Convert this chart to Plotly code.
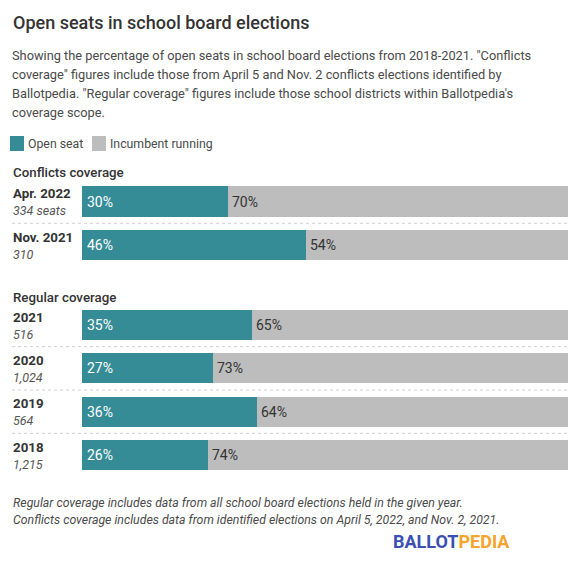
import plotly.graph_objects as go

W, H = 580, 566

# ---- data ----
conf_cats = ["Apr. 2022", "Nov. 2021"]
conf_sub = ["334 seats", "310"]
conf_open = [30, 46]
conf_inc = [70, 54]

reg_cats = ["2021", "2020", "2019", "2018"]
reg_sub = ["516", "1,024", "564", "1,215"]
reg_open = [35, 27, 36, 26]
reg_inc = [65, 73, 64, 74]

TEAL = "#368C96"
GREY = "#BDBDBD"
DARK = "#333333"
MID = "#4a4a4a"
FONT = "Roboto"


def px(x):
    return x / W


def py(y):
    return 1 - y / H


fig = go.Figure()

for cats, opn, inc, yax in [(conf_cats, conf_open, conf_inc, "y"),
                            (reg_cats, reg_open, reg_inc, "y2")]:
    fig.add_trace(go.Bar(y=cats, x=opn, orientation="h", marker=dict(color=TEAL, line=dict(width=0)),
                         name="Open seat", xaxis="x", yaxis=yax, showlegend=False,
                         hoverinfo="skip"))
    fig.add_trace(go.Bar(y=cats, x=inc, orientation="h", marker=dict(color=GREY, line=dict(width=0)),
                         name="Incumbent running", xaxis="x", yaxis=yax, showlegend=False,
                         hoverinfo="skip"))

annotations = []
shapes = []

# Title / description
annotations.append(dict(text="Open seats in school board elections", x=px(11), y=py(23),
                        xref="paper", yref="paper", xanchor="left", yanchor="middle", showarrow=False,
                        font=dict(family=FONT, size=18, color=DARK, weight=500)))
desc = ['Showing the percentage of open seats in school board elections from 2018-2021. "Conflicts',
        'coverage" figures include those from April 5 and Nov. 2 conflicts elections identified by',
        'Ballotpedia. "Regular coverage" figures include those school districts within Ballotpedia\'s',
        'coverage scope.']
for i, line in enumerate(desc):
    annotations.append(dict(text=line, x=px(10), y=py(55 + 19.1 * i), xref="paper", yref="paper",
                            xanchor="left", yanchor="middle", showarrow=False,
                            font=dict(family=FONT, size=12.8, color=MID)))

# Legend (manual)
for x0, col, label in [(10, TEAL, "Open seat"), (92, GREY, "Incumbent running")]:
    shapes.append(dict(type="rect", xref="paper", yref="paper", x0=px(x0), x1=px(x0 + 14),
                       y0=py(151), y1=py(136), fillcolor=col, line=dict(width=0)))
    annotations.append(dict(text=label, x=px(x0 + 16), y=py(143.5), xref="paper", yref="paper",
                            xanchor="left", yanchor="middle", showarrow=False,
                            font=dict(family=FONT, size=12.3, color=MID)))

# Section headers
for txt, y in [("Conflicts coverage", 173), ("Regular coverage", 297)]:
    annotations.append(dict(text=txt, x=px(11), y=py(y), xref="paper", yref="paper",
                            xanchor="left", yanchor="middle", showarrow=False,
                            font=dict(family=FONT, size=13.3, color=DARK, weight=500)))

# Row labels, value labels, separators
for cats, subs, opn, inc, yref in [(conf_cats, conf_sub, conf_open, conf_inc, "y"),
                                   (reg_cats, reg_sub, reg_open, reg_inc, "y2")]:
    for i, c in enumerate(cats):
        annotations.append(dict(text=c, x=px(11), y=i, xref="paper", yref=yref, yshift=8,
                                xanchor="left", yanchor="middle", showarrow=False,
                                font=dict(family=FONT, size=13.3, color=DARK, weight="bold")))
        annotations.append(dict(text=subs[i], x=px(11), y=i, xref="paper", yref=yref, yshift=-9,
                                xanchor="left", yanchor="middle", showarrow=False,
                                font=dict(family=FONT, size=12.5, color="#555555", style="italic")))
        annotations.append(dict(text=f"{opn[i]}%", x=0, y=i, xref="x", yref=yref, xshift=3,
                                xanchor="left", yanchor="middle", showarrow=False,
                                font=dict(family=FONT, size=14, color="white")))
        annotations.append(dict(text=f"{inc[i]}%", x=opn[i], y=i, xref="x", yref=yref, xshift=2,
                                xanchor="left", yanchor="middle", showarrow=False,
                                font=dict(family=FONT, size=14, color=DARK)))
        if i < len(cats) - 1:
            shapes.append(dict(type="line", xref="paper", yref=yref, x0=px(12), x1=px(568),
                               y0=i + 0.5, y1=i + 0.5, line=dict(color="#d0d0d0", width=1, dash="dot")))

# Footer
foot = ["Regular coverage includes data from all school board elections held in the given year.",
        "Conflicts coverage includes data from identified elections on April 5, 2022, and Nov. 2, 2021."]
for i, line in enumerate(foot):
    annotations.append(dict(text=line, x=px(11), y=py(503 + 16.5 * i), xref="paper", yref="paper",
                            xanchor="left", yanchor="middle", showarrow=False,
                            font=dict(family=FONT, size=12.3, color=MID, style="italic")))
annotations.append(dict(text="<span style='color:#3B4FB3'>BALLOT</span><span style='color:#F5A42C'>PEDIA</span>",
                        x=px(512), y=py(541), xref="paper", yref="paper", xanchor="right",
                        yanchor="middle", showarrow=False,
                        font=dict(family=FONT, size=18, weight="bold")))

fig.update_layout(
    width=W, height=H, margin=dict(l=0, r=0, t=0, b=0),
    paper_bgcolor="white", plot_bgcolor="white",
    barmode="stack", bargap=0.31,
    showlegend=False,
    xaxis=dict(domain=[px(82), px(568)], range=[0, 100], visible=False, fixedrange=True),
    yaxis=dict(type="category", domain=[py(266.75), py(179.75)], range=[1.5, -0.5], visible=False,
               categoryorder="array", categoryarray=conf_cats, anchor="x"),
    yaxis2=dict(type="category", domain=[py(476.67), py(303.33)], range=[3.5, -0.5], visible=False,
                categoryorder="array", categoryarray=reg_cats, anchor="x"),
    annotations=annotations, shapes=shapes,
    font=dict(family=FONT),
)

fig.write_html("out.html")
